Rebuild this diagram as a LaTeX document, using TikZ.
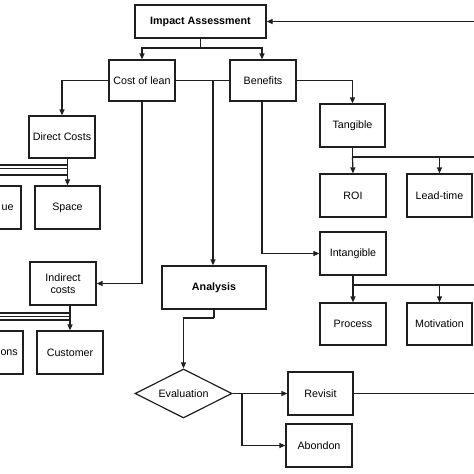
\documentclass[tikz,border=0pt]{standalone}
\usepackage{fontspec}
\setmainfont{Liberation Sans}
\usetikzlibrary{shapes.geometric,arrows.meta}
\begin{document}
\begin{tikzpicture}[x=1pt,y=-1pt,
  font=\fontsize{10.7}{12.5}\selectfont,
  box/.style={draw=black!88,line width=1.2pt,rectangle,minimum width=66pt,minimum height=42pt,inner sep=1pt,align=center},
  dia/.style={draw=black!88,line width=1.2pt,diamond,aspect=2,minimum width=97pt,minimum height=49pt,inner sep=0pt},
  conn/.style={draw=black!88,line width=1.2pt},
  arr/.style={conn,-{Triangle[length=6pt,width=5pt]}}]
\useasboundingbox (0,0) rectangle (474,474);
\clip (0,0) rectangle (474,474);
% nodes
\node[box,minimum width=131pt,minimum height=33pt,font=\fontsize{10.7}{12.5}\selectfont\bfseries] (imp) at (200.5,21.5) {Impact Assessment};
\node[box,minimum height=41pt] (col) at (142,80.5) {Cost of lean};
\node[box,minimum height=41pt] (ben) at (263,80.5) {Benefits};
\node[box] (dc) at (62,137) {Direct Costs};
\node[box,minimum width=30pt,minimum height=43pt] (rev) at (6,207.5) {};
\node[anchor=west,inner sep=0pt] (revt) at (1.5,207.5) {ue};
\node[box,minimum width=65pt,minimum height=43pt] (space) at (67.5,207.5) {Space};
\node[box,minimum height=43pt] (ic) at (63,283.5) {Indirect\\costs};
\node[box,minimum width=32pt,minimum height=43pt] (ops) at (7,352.5) {};
\node[anchor=east,inner sep=0pt] (opst) at (18,352.5) {ons};
\node[box,minimum height=43pt] (cust) at (70,352.5) {Customer};
\node[box,minimum width=104pt,minimum height=43pt,font=\fontsize{10.7}{12.5}\selectfont\bfseries] (ana) at (214,287.5) {Analysis};
\node[dia] (eval) at (183.5,393.5) {Evaluation};
\node[box,minimum width=65pt,minimum height=43pt] (revisit) at (320.5,393.5) {Revisit};
\node[box,minimum height=43pt] (abon) at (319,445.5) {Abondon};
\node[box,minimum width=65pt,minimum height=43pt] (tang) at (352.5,125.5) {Tangible};
\node[box,minimum height=43pt] (roi) at (353,195.5) {ROI};
\node[box,minimum width=65pt,minimum height=43pt] (lead) at (439.5,195.5) {Lead-time};
\node[box,minimum height=43pt] (intang) at (353,253.5) {Intangible};
\node[box,minimum height=42pt] (proc) at (353,324) {Process};
\node[box,minimum width=65pt,minimum height=42pt] (motiv) at (439.5,324) {Motivation};
% coordinates
\coordinate (top) at (490,21.5);
\coordinate (s1) at (200.5,48);
\coordinate (j1) at (213,80.5);
\coordinate (d1) at (67,165);
\coordinate (d2) at (67,168.5);
\coordinate (d3) at (67,175);
\coordinate (i1) at (70,313);
\coordinate (i2) at (70,316.5);
\coordinate (i3) at (70,320);
\coordinate (t1) at (352.5,157);
\coordinate (t2) at (490,157);
\coordinate (n1) at (353,285);
\coordinate (n2) at (490,285);
\coordinate (a1) at (214,318);
\coordinate (e1) at (242,393.5);
\coordinate (rr) at (490,393.5);
\coordinate (lx) at (-20,0);
% connectors
\draw[arr] (top) -- (imp.east);
\draw[conn] (imp.south) -- (s1);
\draw[arr] (s1) -| (col.north);
\draw[arr] (s1) -| ([xshift=-1pt]ben.north);
\draw[conn] (col.east) -- (ben.west);
\draw[arr] (j1) -- (j1 |- ana.north);
\draw[arr] (col.west) -| (dc.north);
\draw[arr] (col.south) |- (ic.east);
\draw[arr] (dc.south -| space.north) -- (space.north);
\draw[conn] (d1) -- (d1 -| lx);
\draw[conn] (d2) -- (d2 -| lx);
\draw[conn] (d3) -- (d3 -| lx);
\draw[arr] (ic.south -| cust.north) -- (cust.north);
\draw[conn] (i1) -- (i1 -| lx);
\draw[conn] (i2) -- (i2 -| lx);
\draw[conn] (i3) -- (i3 -| lx);
\draw[arr] (ben.east) -| (tang.north);
\draw[conn] (tang.south) -- (t1) -- (t2);
\draw[arr] (t1) -- (roi.north);
\draw[arr] (t1 -| lead.north) -- (lead.north);
\draw[arr] ([xshift=-1pt]ben.south) |- (intang.west);
\draw[conn] (intang.south) -- (n1) -- (n2);
\draw[arr] (n1) -- (proc.north);
\draw[arr] (n1 -| motiv.north) -- (motiv.north);
\draw[conn] (ana.south) -- (a1);
\draw[arr] (a1) -| (eval.north);
\draw[conn] (eval.east) -- (e1);
\draw[arr] (e1) -- (revisit.west);
\draw[arr] (e1) |- (abon.west);
\draw[conn] (revisit.east) -- (rr);
\end{tikzpicture}
\end{document}
